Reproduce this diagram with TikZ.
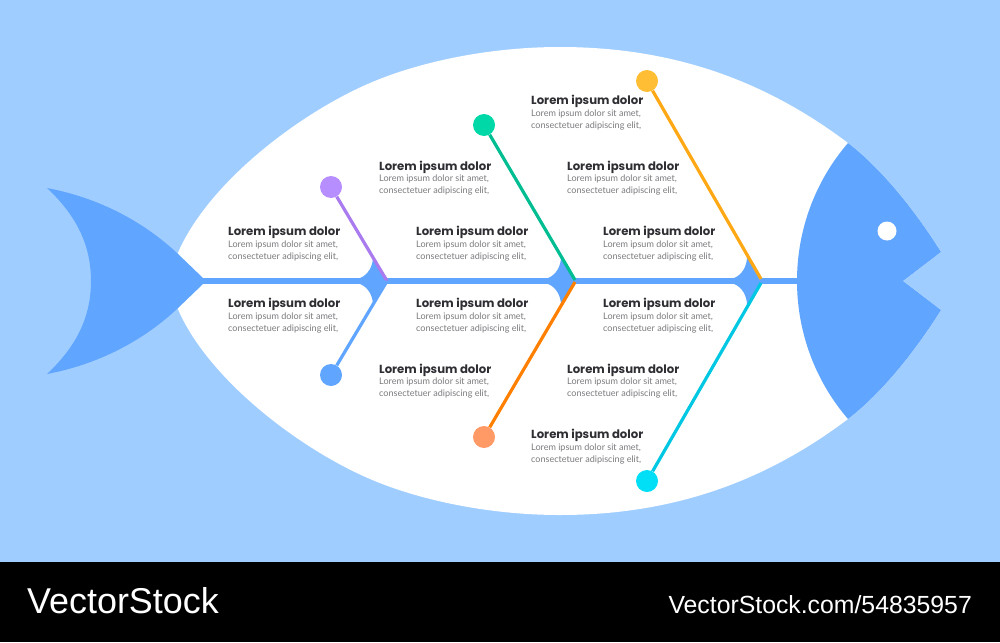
\documentclass[tikz,border=0pt]{standalone}
\usepackage{fontspec}
\setmainfont{Poppins}
\newfontfamily\subfont{Lato}
\newfontfamily\markfont{Liberation Sans}
\definecolor{sky}{HTML}{A0CDFF}
\definecolor{fishblue}{HTML}{60A5FF}
\definecolor{ink}{HTML}{2E2E33}
\definecolor{greytxt}{HTML}{7C7C80}
\newcommand{\subline}[1]{\subfont\fontsize{9.05}{11.3}\selectfont\color{greytxt}#1}
\newcommand{\loremblock}{\fontsize{11.7}{13}\selectfont\bfseries\color{ink}Lorem ipsum dolor\\[-0.2pt]\subline{Lorem ipsum dolor sit amet,}\\\subline{consectetuer adipiscing elit,}}
\tikzset{
 txt/.style={anchor=north west,inner sep=0pt,align=left},
 dot/.style={circle,inner sep=0pt,minimum size=#1},
 dot/.default=22pt,
 bone/.style={line width=3.2pt},
 juncfill/.style={fill=fishblue},
}
\newcommand{\junction}[1]{% x of tip
 \fill[juncfill] (#1,278) -- (#1-14,257) .. controls (#1-14,266) and (#1-19,275) .. (#1-27,278)
  -- (#1-27,284) .. controls (#1-19,287) and (#1-14,296) .. (#1-14,305) -- (#1,284) -- cycle;
}
\begin{document}
\begin{tikzpicture}[x=1pt,y=-1pt]
\useasboundingbox (0,0) rectangle (1000,642);
\fill[sky] (0,0) rectangle (1000,562);
\fill[black] (0,562) rectangle (1000,642);
% body
\fill[white] (177,255) .. controls (207,183) and (300,113) .. (370,83)
  .. controls (420,61.5) and (490,47) .. (560,47)
  .. controls (680,47) and (771,85) .. (848,143)
  .. controls (882,169) and (916,212) .. (941,252) -- (903,281) -- (941,310)
  .. controls (916,350) and (882,393) .. (848,419)
  .. controls (771,477) and (680,515) .. (560,515)
  .. controls (490,515) and (420,500.5) .. (370,479)
  .. controls (300,449) and (207,379) .. (177,307) -- cycle;
% head
\fill[fishblue] (848,143) .. controls (882,169) and (916,212) .. (941,252) -- (903,281) -- (941,310)
  .. controls (916,350) and (882,393) .. (848,419)
  .. controls (780,340) and (780,222) .. (848,143) -- cycle;
\node[dot=19pt,fill=white] (eye) at (887,231) {};
% tail
\fill[fishblue] (47,188) .. controls (105,199) and (148,226) .. (177,253) -- (203,278) -- (203,284) -- (177,309)
  .. controls (148,336) and (105,363) .. (47,374) .. controls (78,345) and (91,315) .. (91,281)
  .. controls (91,247) and (78,217) .. (47,188) -- cycle;
% spine
\coordinate (spineL) at (200,281);
\coordinate (spineR) at (800,281);
\draw[fishblue,line width=6pt] (spineL) -- (spineR);
\junction{387}\junction{575}\junction{761}
% junction points
\coordinate (j1u) at (387,281);\coordinate (j1d) at (387,281);
\coordinate (j2u) at (575,280);\coordinate (j2d) at (575,282);
\coordinate (j3u) at (761,279);\coordinate (j3d) at (761,283);
% dots
\definecolor{cpurple}{RGB}{183,142,255}
\definecolor{lpurple}{RGB}{169,123,238}
\definecolor{cgreen}{RGB}{0,216,168}
\definecolor{lgreen}{RGB}{0,190,145}
\definecolor{corange}{RGB}{255,154,102}
\definecolor{lorange}{RGB}{255,128,0}
\definecolor{cyellow}{RGB}{255,190,51}
\definecolor{lyellow}{RGB}{255,168,21}
\definecolor{ccyan}{RGB}{0,223,245}
\definecolor{lcyan}{RGB}{0,200,226}
\node[dot,fill=cpurple] (purple) at (331,187) {};
\node[dot,fill=fishblue] (blue) at (331,375) {};
\node[dot,fill=cgreen] (green) at (484,125) {};
\node[dot,fill=corange] (orange) at (484,437) {};
\node[dot,fill=cyellow] (yellow) at (647,81) {};
\node[dot,fill=ccyan] (cyan) at (647,481) {};
\draw[bone,lpurple] (purple) -- (j1u);
\draw[bone,fishblue] (blue) -- (j1d);
\draw[bone,lgreen] (green) -- (j2u);
\draw[bone,lorange] (orange) -- (j2d);
\draw[bone,lyellow] (yellow) -- (j3u);
\draw[bone,lcyan] (cyan) -- (j3d);
% texts
\node[txt] (t1) at (228,226) {\loremblock};
\node[txt] (t2) at (379,160.5) {\loremblock};
\node[txt] (t3) at (416,226) {\loremblock};
\node[txt] (t4) at (531,95) {\loremblock};
\node[txt] (t5) at (567,160.5) {\loremblock};
\node[txt] (t6) at (603,226) {\loremblock};
\node[txt] (t7) at (228,298) {\loremblock};
\node[txt] (t8) at (379,363.5) {\loremblock};
\node[txt] (t9) at (416,298) {\loremblock};
\node[txt] (t10) at (531,429) {\loremblock};
\node[txt] (t11) at (567,363.5) {\loremblock};
\node[txt] (t12) at (603,298) {\loremblock};
% footer
\node[anchor=base west,inner sep=0pt,text=white,font=\markfont\fontsize{35.9}{38}\selectfont] (m1) at (27,613) {VectorStock};
\node[anchor=base east,inner sep=0pt,text=white,font=\markfont\fontsize{24.8}{27}\selectfont] (m2) at (972,613) {VectorStock.com/54835957};
\end{tikzpicture}
\end{document}
